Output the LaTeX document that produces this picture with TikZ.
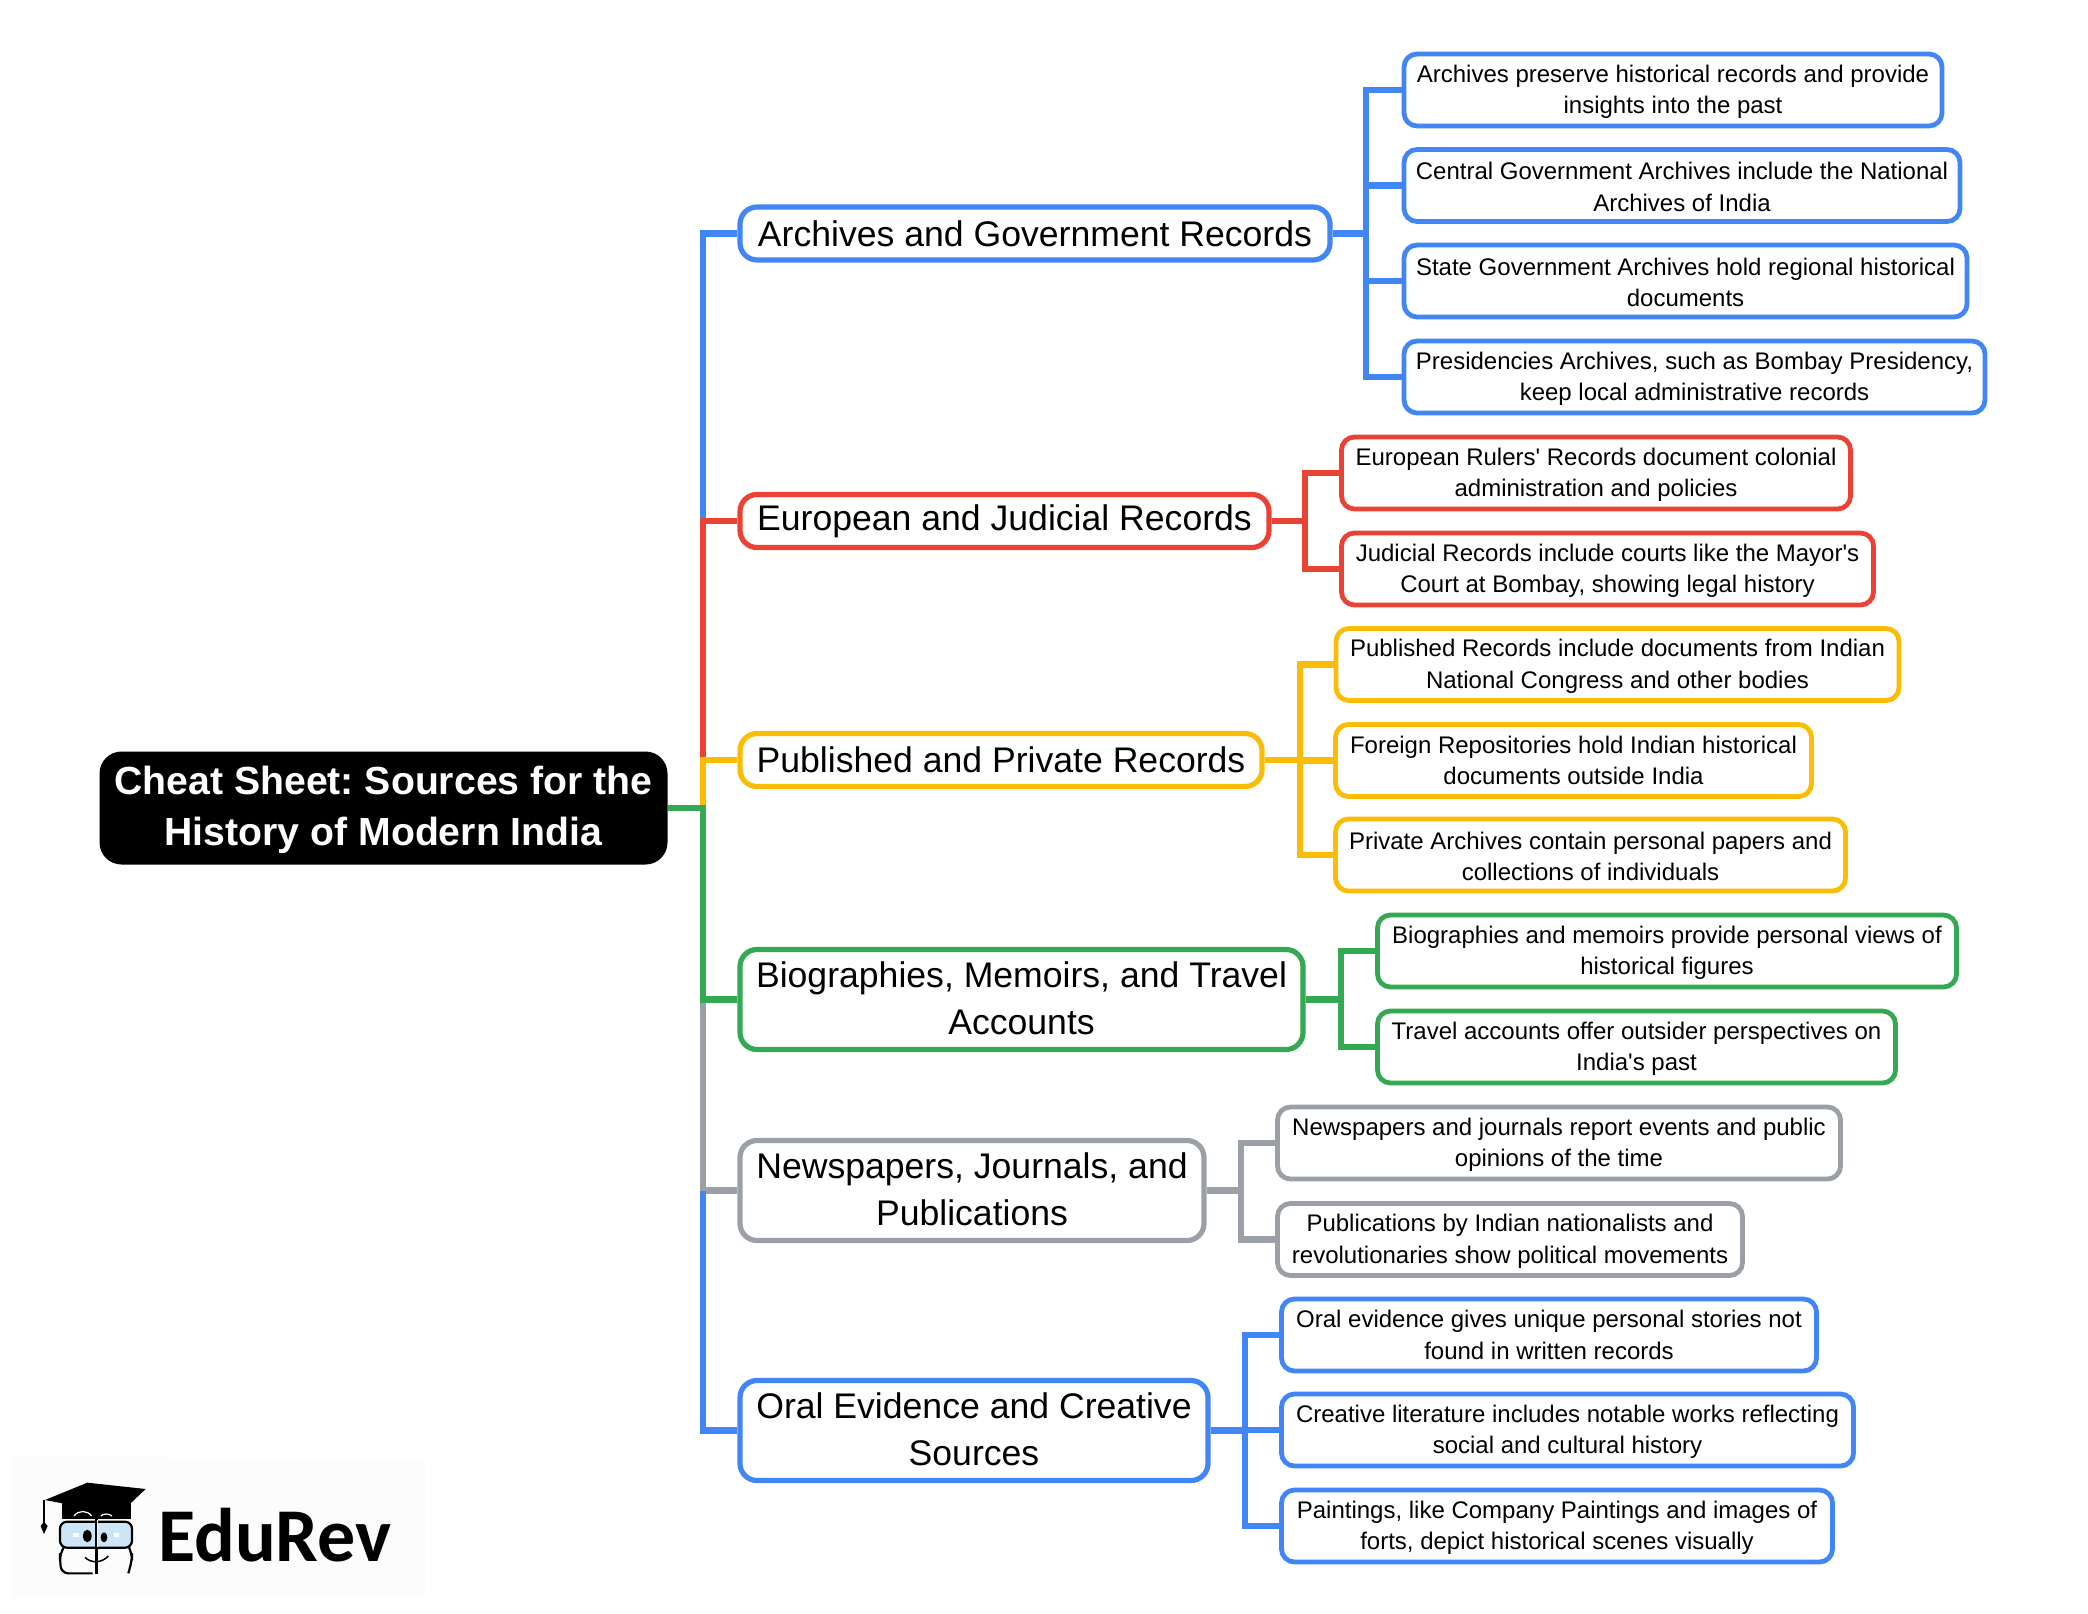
\documentclass[tikz,border=0pt]{standalone}
\usepackage{fontspec}
\setmainfont{Liberation Sans}[Ligatures=TeXOff]
\newfontfamily\logofont{Carlito}
\definecolor{cblue}{HTML}{4285F4}
\definecolor{cred}{HTML}{EA4335}
\definecolor{cyel}{HTML}{FBBC05}
\definecolor{cgrn}{HTML}{34A853}
\definecolor{cgry}{HTML}{9AA0A6}
\definecolor{glass}{HTML}{CDE6F7}
\newcommand{\firststrut}{\rule{0pt}{20.5pt}}
\newcommand{\rootstrut}{\rule{0pt}{32pt}}
\tikzset{
  rootbox/.style={fill=black,text=white,rounded corners=22pt,inner sep=0pt,align=center,minimum width=568pt,minimum height=113pt,font=\frenchspacing\bfseries\fontsize{39.2}{51}\selectfont},
  topic/.style={draw=#1,fill=white,line width=5.2pt,rounded corners=17pt,inner sep=0pt,align=center,minimum height=53pt,font=\frenchspacing\fontsize{35.6}{47}\selectfont},
  topictwo/.style={topic=#1,minimum height=100pt,execute at end node={\rule[-3pt]{0pt}{0pt}}},
  leaf/.style={draw=#1,fill=white,line width=4.8pt,rounded corners=13pt,inner sep=0pt,align=center,minimum height=72pt,font=\frenchspacing\fontsize{24}{31.5}\selectfont},
  trunk/.style={draw=#1,line width=6.4pt,line join=miter},
  bus/.style={draw=#1,line width=6.2pt,line join=miter},
}
\begin{document}
\begin{tikzpicture}[x=1pt,y=-1pt]
\useasboundingbox (0,0) rectangle (2088,1614);
% logo background
\fill[black!1] (12,1456) rectangle (170,1598);
\fill[black!1] (170,1458) rectangle (425,1598);

\node[rootbox] (root) at (383.5,808) {\rootstrut Cheat Sheet: Sources for the\\History of Modern India};

\node[topic=cblue,minimum width=590pt] (A) at (1035,233.5) {Archives and Government Records};
\node[topic=cred,minimum width=529pt] (E) at (1004.5,521) {European and Judicial Records};
\node[topic=cyel,minimum width=522pt] (P) at (1001,760) {Published and Private Records};
\node[topictwo=cgrn,minimum width=563pt] (B) at (1021.5,999.5) {Biographies, Memoirs, and Travel\\Accounts};
\node[topictwo=cgry,minimum width=464pt] (N) at (972,1190.5) {Newspapers, Journals, and\\Publications};
\node[topictwo=cblue,minimum width=468pt] (O) at (974,1430.5) {Oral Evidence and Creative\\Sources};

\node[leaf=cblue,minimum width=538pt] (a1) at (1673,90) {\firststrut Archives preserve historical records and provide\\insights into the past};
\node[leaf=cblue,minimum width=556pt] (a2) at (1682,185.5) {\firststrut Central Government Archives include the National\\Archives of India};
\node[leaf=cblue,minimum width=563pt] (a3) at (1685.5,281) {\firststrut State Government Archives hold regional historical\\documents};
\node[leaf=cblue,minimum width=581pt] (a4) at (1694.5,377) {\firststrut Presidencies Archives, such as Bombay Presidency,\\keep local administrative records};
\node[leaf=cred,minimum width=509pt] (e1) at (1596,473) {\firststrut European Rulers' Records document colonial\\administration and policies};
\node[leaf=cred,minimum width=532pt] (e2) at (1607.5,569) {\firststrut Judicial Records include courts like the Mayor's\\Court at Bombay, showing legal history};
\node[leaf=cyel,minimum width=563pt] (p1) at (1617.5,664.5) {\firststrut Published Records include documents from Indian\\National Congress and other bodies};
\node[leaf=cyel,minimum width=476pt] (p2) at (1573.5,760.5) {Foreign Repositories hold Indian historical\\documents outside India};
\node[leaf=cyel,minimum width=510pt] (p3) at (1590.5,855) {\firststrut Private Archives contain personal papers and\\collections of individuals};
\node[leaf=cgrn,minimum width=579pt] (b1) at (1667,951) {\firststrut Biographies and memoirs provide personal views of\\historical figures};
\node[leaf=cgrn,minimum width=518pt] (b2) at (1636.5,1047) {\firststrut Travel accounts offer outsider perspectives on\\India's past};
\node[leaf=cgry,minimum width=563pt] (n1) at (1559,1143) {\firststrut Newspapers and journals report events and public\\opinions of the time};
\node[leaf=cgry,minimum width=465pt] (n2) at (1510,1239.5) {\firststrut Publications by Indian nationalists and\\revolutionaries show political movements};
\node[leaf=cblue,minimum width=535pt] (o1) at (1549,1335) {Oral evidence gives unique personal stories not\\found in written records};
\node[leaf=cblue,minimum width=572pt] (o2) at (1567.5,1430) {\firststrut Creative literature includes notable works reflecting\\social and cultural history};
\node[leaf=cblue,minimum width=551pt] (o3) at (1557,1526) {\firststrut Paintings, like Company Paintings and images of\\forts, depict historical scenes visually};

% trunk
\coordinate (t) at (703,808);
\draw[trunk=cblue] (A.west) -- (A.west -| t) -- (E.west -| t);
\draw[trunk=cred] (E.west) -- (E.west -| t) -- (P.west -| t);
\draw[trunk=cyel] (P.west) -- (P.west -| t) -- (t);
\draw[trunk=cgry] (N.west) -- (N.west -| t) -- (B.west -| t);
\draw[trunk=cblue] (O.west) -- (O.west -| t) -- (N.west -| t);
\draw[trunk=cgrn] (B.west) -- (B.west -| t) -- (t) -- (root.east);

% branch buses
\coordinate (ba) at (1366,233.5);
\coordinate (be) at (1305,521);
\coordinate (bp) at (1300,760);
\coordinate (bb) at (1341,999.5);
\coordinate (bn) at (1241,1190.5);
\coordinate (bo) at (1245,1430.5);

\draw[bus=cblue] (A.east) -- (ba);
\draw[bus=cblue] (a1.west) -| (ba) |- (a4.west);
\draw[bus=cblue] (a2.west) -- (a2.west -| ba);
\draw[bus=cblue] (a3.west) -- (a3.west -| ba);

\draw[bus=cred] (E.east) -- (be);
\draw[bus=cred] (e1.west) -| (be) |- (e2.west);

\draw[bus=cyel] (P.east) -- (bp);
\draw[bus=cyel] (p1.west) -| (bp) |- (p3.west);
\draw[bus=cyel] (p2.west) -- (p2.west -| bp);

\draw[bus=cgrn] (B.east) -- (bb);
\draw[bus=cgrn] (b1.west) -| (bb) |- (b2.west);

\draw[bus=cgry] (N.east) -- (bn);
\draw[bus=cgry] (n1.west) -| (bn) |- (n2.west);

\draw[bus=cblue] (O.east) -- (bo);
\draw[bus=cblue] (o1.west) -| (bo) |- (o3.west);
\draw[bus=cblue] (o2.west) -- (o2.west -| bo);

% logo
\node[anchor=base west,inner sep=0pt,font=\logofont\bfseries\fontsize{76}{76}\selectfont] (logo) at (158,1561.5) {EduRev};
\begin{scope}[x=0.33333pt,y=-0.33333pt,yshift=-1420pt]
  \fill[black] (185,250) -- (392,250) -- (392,298) -- (185,298) -- cycle;
  \fill[black] (135,240) -- (262,188) -- (437,207) -- (358,282) -- cycle;
  \draw[white,line width=1.2pt] (222,288) .. controls (235,270) and (262,270) .. (275,288);
  \draw[white,line width=1.2pt] (302,288) .. controls (310,280) and (328,280) .. (336,288);
  \draw[black,line width=1.3pt] (132,240) -- (132,310);
  \fill[black] (132,305) -- (143,318) -- (132,342) -- (122,318) -- cycle;
  \draw[black,line width=2.2pt,fill=glass,rounded corners=7pt] (180,305) rectangle (396,383);
  \draw[black,line width=2.2pt,rounded corners=7pt] (278,460) -- (184,460) -- (180,420) -- (180,400) -- (190,384);
  \draw[black,line width=2.2pt,rounded corners=7pt] (385,460) -- (396,420) -- (396,400) -- (388,384);
  \draw[black,line width=2.5pt] (290,298) -- (290,462);
  \fill[white] (290,300) rectangle (295,382);
  \fill[black] (262,348) ellipse [x radius=13,y radius=19];
  \fill[black] (312,352) ellipse [x radius=10,y radius=15];
  \fill[white] (220,338) rectangle (236,352);
  \fill[white] (342,338) rectangle (358,352);
  \draw[black,line width=1.5pt] (255,412) .. controls (272,430) and (305,430) .. (325,408);
\end{scope}
\end{tikzpicture}
\end{document}
